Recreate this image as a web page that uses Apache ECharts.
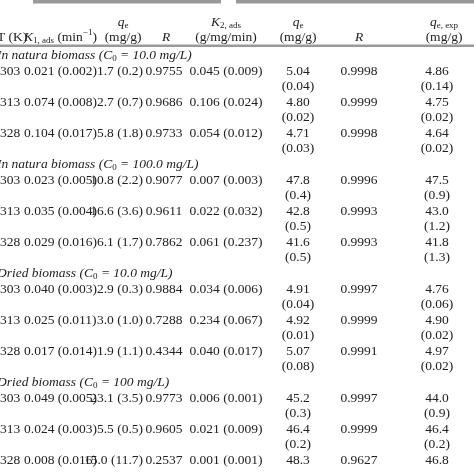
<!DOCTYPE html>
<html><head><meta charset="utf-8">
<script src="https://cdn.jsdelivr.net/npm/echarts@6/dist/echarts.min.js"></script>
<style>html,body{margin:0;padding:0;background:#fff}#c{width:474px;height:474px}</style>
</head><body><div id="c"></div>
<script>
const groupLabels = ["In natura biomass", "In natura biomass", "Dried biomass", "Dried biomass"];
const groupConc = ["10.0 mg/L", "100.0 mg/L", "10.0 mg/L", "100 mg/L"];
const temps = ["303","313","328","303","313","328","303","313","328","303","313","328"];
const k1 = ["0.021 (0.002)","0.074 (0.008)","0.104 (0.017)","0.023 (0.005)","0.035 (0.004)","0.029 (0.016)","0.040 (0.003)","0.025 (0.011)","0.017 (0.014)","0.049 (0.005)","0.024 (0.003)","0.008 (0.016)"];
const qe1 = ["1.7 (0.2)","2.7 (0.7)","5.8 (1.8)","10.8 (2.2)","16.6 (3.6)","6.1 (1.7)","2.9 (0.3)","3.0 (1.0)","1.9 (1.1)","23.1 (3.5)","5.5 (0.5)","15.0 (11.7)"];
const r1 = ["0.9755","0.9686","0.9733","0.9077","0.9611","0.7862","0.9884","0.7288","0.4344","0.9773","0.9605","0.2537"];
const k2 = ["0.045 (0.009)","0.106 (0.024)","0.054 (0.012)","0.007 (0.003)","0.022 (0.032)","0.061 (0.237)","0.034 (0.006)","0.234 (0.067)","0.040 (0.017)","0.006 (0.001)","0.021 (0.009)","0.001 (0.001)"];
const qe2 = ["5.04","4.80","4.71","47.8","42.8","41.6","4.91","4.92","5.07","45.2","46.4","48.3"];
const qe2err = ["(0.04)","(0.02)","(0.03)","(0.4)","(0.5)","(0.5)","(0.04)","(0.01)","(0.08)","(0.3)","(0.2)",""];
const r2 = ["0.9998","0.9999","0.9998","0.9996","0.9993","0.9993","0.9997","0.9999","0.9991","0.9997","0.9999","0.9627"];
const qexp = ["4.86","4.75","4.64","47.5","43.0","41.8","4.76","4.90","4.97","44.0","46.4","46.8"];
const qexperr = ["(0.14)","(0.02)","(0.02)","(0.9)","(1.2)","(1.3)","(0.06)","(0.02)","(0.02)","(0.9)","(0.2)",""];

const FS = 13.5, FAM = "'Liberation Serif', 'DejaVu Serif', serif", COL = '#222';
const cv = document.createElement('canvas').getContext('2d');
const els = [];
function fnt(sz, it){ return (it?'italic ':'') + sz + 'px ' + FAM; }
function seg(x, y, parts, align){
  let w = 0;
  parts.forEach(p => { cv.font = fnt(p.s||FS, p.i); p.w = cv.measureText(p.t).width; w += p.w; });
  let cx = align==='center' ? x - w/2 : align==='right' ? x - w : x;
  parts.forEach(p => {
    els.push({type:'text', x: cx, y: y + (p.dy||0), style:{text:p.t, font:fnt(p.s||FS,p.i), fill:COL, align:'left', verticalAlign:'middle'}});
    cx += p.w;
  });
}
function txt(x, y, t, align){ seg(x, y, [{t}], align); }

els.push({type:'rect', shape:{x:33,y:0,width:188,height:3.5}, style:{fill:'#999'}});
els.push({type:'rect', shape:{x:236,y:0,width:240,height:3.5}, style:{fill:'#999'}});
els.push({type:'rect', shape:{x:0,y:44.5,width:474,height:2.5}, style:{fill:'#999'}});
const h2 = 37, h1 = 22;
txt(-3, h2, 'T (K)', 'left');
seg(24, h2, [{t:'K',i:true},{t:'1, ads',s:9,dy:4},{t:' (min'},{t:'−1',s:9,dy:-4},{t:')'}], 'left');
seg(123, h1, [{t:'q',i:true},{t:'e',s:9,dy:4}], 'center'); txt(123, h2, '(mg/g)', 'center');
seg(166, h2, [{t:'R',i:true}], 'center');
seg(226, h1, [{t:'K',i:true},{t:'2, ads',s:9,dy:4}], 'center'); txt(226, h2, '(g/mg/min)', 'center');
seg(298, h1, [{t:'q',i:true},{t:'e',s:9,dy:4}], 'center'); txt(298, h2, '(mg/g)', 'center');
seg(359, h2, [{t:'R',i:true}], 'center');
seg(444, h1, [{t:'q',i:true},{t:'e, exp',s:9,dy:4}], 'center'); txt(444, h2, '(mg/g)', 'center');

const LH = 15.5, G = 109, bodyTop = 55;
for (let g = 0; g < 4; g++) {
  const gy = bodyTop + g*G;
  seg(-3, gy, [{t:groupLabels[g]+' (',i:true},{t:'C',i:true},{t:'0',s:9,dy:4},{t:' = '+groupConc[g]+')',i:true}], 'left');
  for (let r = 0; r < 3; r++) {
    const k = g*3 + r, y = gy + 16 + r*2*LH;
    txt(0, y, temps[k], 'left');
    txt(24, y, k1[k], 'left');
    txt(143, y, qe1[k], 'right');
    txt(164, y, r1[k], 'center');
    txt(226, y, k2[k], 'center');
    txt(298, y, qe2[k], 'center');
    txt(298, y+LH, qe2err[k], 'center');
    txt(359, y, r2[k], 'center');
    txt(437, y, qexp[k], 'center');
    txt(437, y+LH, qexperr[k], 'center');
  }
}
const chart = echarts.init(document.getElementById('c'));
chart.setOption({animation:false, graphic:{elements:els}});
</script></body></html>
